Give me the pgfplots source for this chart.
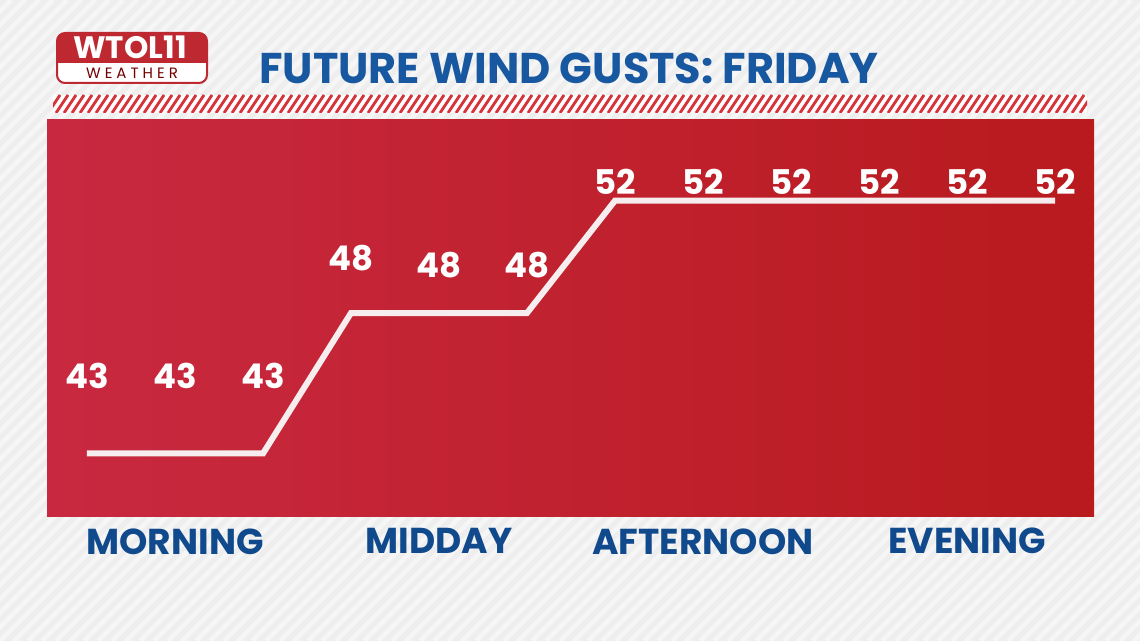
\documentclass[border=0pt]{standalone}
\usepackage{fontspec}
\setmainfont{Poppins}
\usepackage{pgfplots}
\usepackage{pgfplotstable}
\pgfplotsset{compat=1.18}
\definecolor{panelL}{RGB}{201,41,64}
\definecolor{panelR}{RGB}{184,26,30}
\definecolor{ttlblue}{RGB}{24,88,160}
\definecolor{catblue}{RGB}{16,74,140}
\definecolor{hatch}{RGB}{214,52,58}
\definecolor{logored}{RGB}{190,40,48}
\definecolor{bg}{RGB}{238,238,239}
\definecolor{lineW}{RGB}{246,238,238}
\pgfplotstableread{
x g ly
0 43 45.76
1 43 45.76
2 43 45.76
3 48 49.96
4 48 49.71
5 48 49.71
6 52 52.66
7 52 52.66
8 52 52.66
9 52 52.66
10 52 52.66
11 52 52.66
}\gusts
\begin{document}
\begin{tikzpicture}
\begin{scope}[x=0.5pt,y=0.5pt]
\fill[bg] (0,0) rectangle (1140,641);
\begin{scope}
\clip (0,0) rectangle (1140,641);
\foreach \i in {-700,-686,...,1140} \draw[white, line width=2.2pt, opacity=0.5] (\i,0) -- (\i+641,641);
\end{scope}
% hatched band
\fill[white] (53,528) rectangle (1087,546);
\begin{scope}
\clip (53,528) rectangle (1087,546);
\foreach \i in {40,48,...,1100} \draw[hatch, line width=1.4pt] (\i,528) -- (\i+12,546);
\end{scope}
% logo
\draw[fill=white, draw=logored, line width=1pt, rounded corners=4pt] (57,558) rectangle (207,608);
\fill[logored] (57,578) [rounded corners=4pt] -- (57,608) -- (207,608) [sharp corners] -- (207,578) -- cycle;
\node[white, font=\bfseries\fontsize{15.5}{15.5}\selectfont, inner sep=0pt] at (130,594) {WTOL11};
\node[black!55!red, font=\fontsize{7.5}{7.5}\selectfont, inner sep=0pt] at (132,567.5) {W E A T H E R};
% title
\node[ttlblue, font=\bfseries\fontsize{21.5}{21.5}\selectfont, inner sep=0pt] at (569,573) {FUTURE WIND GUSTS: FRIDAY};
\end{scope}
\begin{axis}[at={(23.5pt,62pt)}, anchor=south west, scale only axis,
  width=523.5pt, height=198.5pt,
  xmin=-0.4545, xmax=11.443, ymin=40.74, ymax=54.87,
  axis line style={draw=none}, ytick=\empty,
  xtick={1,4,7,10}, xticklabels={MORNING,MIDDAY,AFTERNOON,EVENING},
  major tick length=0pt,
  xticklabel style={catblue, font=\bfseries\fontsize{18}{18}\selectfont, anchor=north, inner sep=0pt, yshift=-5.5pt},
  axis background/.style={left color=panelL, right color=panelR},
  clip=false]
\addplot[lineW, line width=3pt, line join=miter] table[x=x,y=g]{\gusts};
\addplot[draw=none, mark=none, nodes near coords, point meta=explicit symbolic,
  every node near coord/.append style={white, anchor=center, inner sep=0pt, font=\bfseries\fontsize{17}{17}\selectfont}]
  table[x=x,y=ly,meta=g]{\gusts};
\end{axis}
\end{tikzpicture}
\end{document}
